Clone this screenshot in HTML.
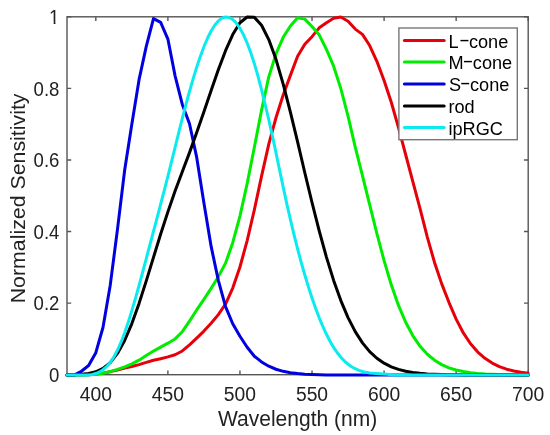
<!DOCTYPE html>
<html><head><meta charset="utf-8"><style>
html,body{margin:0;padding:0;background:#fff;}
body{width:550px;height:435px;overflow:hidden;}
svg{display:block;}
text{font-family:"Liberation Sans",Arial,sans-serif;fill:#222;}
.tl{font-size:20px;}
.lg{font-size:18.5px;fill:#000;}
.xl{font-size:21.4px;}
.yl{font-size:20.6px;}
</style></head><body>
<svg width="550" height="435" viewBox="0 0 550 435">
<defs><clipPath id="c1"><rect x="40" y="0" width="30" height="22.10"/><rect x="53.64" y="0" width="1.83" height="26.10"/></clipPath></defs>
<rect width="550" height="435" fill="#fff"/>
<g fill="none" stroke="#555" stroke-width="1.4">
<rect x="67.0" y="16.8" width="461.2" height="357.9"/>
<path d="M95.83,374.7v-4.2M95.83,16.8v4.2M167.89,374.7v-4.2M167.89,16.8v4.2M239.95,374.7v-4.2M239.95,16.8v4.2M312.01,374.7v-4.2M312.01,16.8v4.2M384.08,374.7v-4.2M384.08,16.8v4.2M456.14,374.7v-4.2M456.14,16.8v4.2M528.20,374.7v-4.2M528.20,16.8v4.2M67.0,374.70h4.2M528.2,374.70h-4.2M67.0,303.12h4.2M528.2,303.12h-4.2M67.0,231.54h4.2M528.2,231.54h-4.2M67.0,159.96h4.2M528.2,159.96h-4.2M67.0,88.38h4.2M528.2,88.38h-4.2M67.0,16.80h4.2M528.2,16.80h-4.2"/>
</g>
<g fill="none" stroke-width="3" stroke-linejoin="round" stroke-linecap="round">
<polyline points="67.00,375.10 74.21,375.10 81.41,374.92 88.62,374.65 95.83,374.10 103.03,373.13 110.24,371.66 117.44,369.95 124.65,368.16 131.86,366.55 139.06,364.60 146.27,362.43 153.48,360.31 160.68,358.67 167.89,356.89 175.09,354.77 182.30,350.96 189.51,344.89 196.71,338.11 203.92,331.10 211.13,323.27 218.33,314.61 225.54,304.01 232.74,288.08 239.95,266.98 247.16,240.61 254.36,209.75 261.57,176.18 268.78,144.07 275.98,117.75 283.19,94.99 290.39,75.39 297.60,56.21 304.81,44.25 312.01,36.67 319.22,27.83 326.43,22.66 333.63,18.29 340.84,17.06 348.04,21.24 355.25,29.10 362.46,34.34 369.66,45.55 376.87,61.32 384.08,80.43 391.28,102.23 398.49,127.64 405.69,154.74 412.90,181.91 420.11,208.84 427.31,237.10 434.52,262.46 441.73,283.88 448.93,302.31 456.14,319.11 463.34,332.94 470.55,343.74 477.76,352.05 484.96,358.37 492.17,363.11 499.38,366.63 506.58,369.21 513.79,371.05 520.99,372.28 528.20,373.14" stroke="#e6000a"/>
<polyline points="67.00,375.10 74.21,375.10 81.41,374.94 88.62,374.69 95.83,374.15 103.03,373.18 110.24,371.58 117.44,369.42 124.65,366.80 131.86,363.88 139.06,360.15 146.27,355.60 153.48,351.06 160.68,347.13 167.89,343.17 175.09,338.92 182.30,331.70 189.51,321.09 196.71,309.95 203.92,299.43 211.13,288.40 218.33,276.78 225.54,263.14 232.74,242.64 239.95,216.10 247.16,183.56 254.36,147.29 261.57,110.16 268.78,76.88 275.98,53.92 283.19,37.28 290.39,25.98 297.60,17.71 304.81,19.11 312.01,26.50 319.22,34.84 326.43,49.46 333.63,66.21 340.84,88.59 348.04,116.06 355.25,147.16 362.46,175.71 369.66,204.55 376.87,233.51 384.08,260.56 391.28,284.82 398.49,305.39 405.69,322.24 412.90,335.79 420.11,346.33 427.31,354.27 434.52,360.21 441.73,364.64 448.93,367.82 456.14,369.95 463.34,371.54 470.55,372.68 477.76,373.45 484.96,373.96 492.17,374.31 499.38,374.56 506.58,374.73 513.79,374.85 520.99,374.93 528.20,374.98" stroke="#00ec00"/>
<polyline points="67.00,375.10 74.21,375.10 81.41,371.23 88.62,365.55 95.83,352.68 103.03,327.25 110.24,285.15 117.44,229.65 124.65,170.24 131.86,123.92 139.06,79.69 146.27,46.33 153.48,18.61 160.68,22.44 167.89,39.07 175.09,75.86 182.30,104.41 189.51,123.81 196.71,157.43 203.92,203.03 211.13,246.39 218.33,280.36 225.54,306.66 232.74,323.77 239.95,336.22 247.16,347.24 254.36,356.22 261.57,361.94 268.78,366.21 275.98,369.25 283.19,371.34 290.39,372.71 297.60,373.61 304.81,374.18 312.01,374.54 319.22,374.76 326.43,374.89 333.63,374.97 340.84,375.02 348.04,375.05 355.25,375.07 362.46,375.08 369.66,375.09 376.87,375.09 384.08,375.10 391.28,375.10 398.49,375.10 405.69,375.10 412.90,375.10 420.11,375.10 427.31,375.10 434.52,375.10 441.73,375.10 448.93,375.10 456.14,375.10 463.34,375.10 470.55,375.10 477.76,375.10 484.96,375.10 492.17,375.10 499.38,375.10 506.58,375.10 513.79,375.10 520.99,375.10 528.20,375.10" stroke="#0000e0"/>
<polyline points="67.00,374.89 74.21,374.70 81.41,374.31 88.62,373.47 95.83,371.77 103.03,368.45 110.24,362.60 117.44,353.43 124.65,340.44 131.86,323.57 139.06,303.41 146.27,280.91 153.48,257.37 160.68,234.05 167.89,211.84 175.09,191.03 182.30,171.65 189.51,152.63 196.71,132.54 203.92,111.73 211.13,90.56 218.33,69.75 225.54,50.73 232.74,34.58 239.95,22.74 247.16,17.00 254.36,17.36 261.57,25.25 268.78,39.61 275.98,59.34 283.19,84.10 290.39,112.09 297.60,141.87 304.81,172.73 312.01,202.51 319.22,230.86 326.43,257.12 333.63,280.41 340.84,300.61 348.04,317.62 355.25,331.61 362.46,342.84 369.66,351.60 376.87,358.27 384.08,363.21 391.28,366.80 398.49,369.38 405.69,371.20 412.90,372.46 420.11,373.32 427.31,373.90 434.52,374.30 441.73,374.56 448.93,374.74 456.14,374.86 463.34,374.94 470.55,374.99 477.76,375.02 484.96,375.05 492.17,375.06 499.38,375.07 506.58,375.08 513.79,375.09 520.99,375.09 528.20,375.09" stroke="#000000"/>
<polyline points="67.00,375.10 70.60,375.10 74.21,375.00 77.81,374.94 81.41,375.00 85.02,375.03 88.62,374.89 92.22,374.43 95.83,373.51 99.43,371.99 103.03,369.72 106.63,366.57 110.24,362.38 113.84,357.01 117.44,350.32 121.05,342.21 124.65,332.76 128.25,322.18 131.86,310.63 135.46,298.31 139.06,285.41 142.67,272.09 146.27,258.57 149.87,245.00 153.48,231.46 157.08,217.89 160.68,204.21 164.28,190.36 167.89,176.26 171.49,161.87 175.09,147.30 178.70,132.76 182.30,118.45 185.90,104.59 189.51,91.34 193.11,78.82 196.71,67.14 200.32,56.41 203.92,46.74 207.52,38.24 211.13,31.01 214.73,25.18 218.33,20.85 221.93,18.12 225.54,17.00 229.14,17.48 232.74,19.52 236.35,23.12 239.95,28.25 243.55,34.89 247.16,43.02 250.76,52.62 254.36,63.66 257.97,76.13 261.57,89.90 265.17,104.56 268.78,119.77 272.38,135.81 275.98,152.71 279.58,170.00 283.19,187.16 286.79,203.70 290.39,219.50 294.00,234.54 297.60,248.81 301.20,262.30 304.81,275.01 308.41,286.92 312.01,298.03 315.62,308.34 319.22,317.83 322.82,326.49 326.43,334.31 330.03,341.30 333.63,347.43 337.23,352.72 340.84,357.23 344.44,361.02 348.04,364.16 351.65,366.71 355.25,368.74 358.85,370.31 362.46,371.49 366.06,372.34 369.66,372.94 373.27,373.33 376.87,373.60 380.47,373.80 384.08,374.01 387.68,374.27 391.28,374.67 394.88,375.10 398.49,375.10 402.09,375.10 405.69,375.10 409.30,375.10 412.90,375.10 416.50,375.10 420.11,375.10 423.71,375.10 427.31,375.10 430.92,375.10 434.52,375.10 438.12,375.10 441.73,375.10 445.33,375.10 448.93,375.10 452.53,375.10 456.14,375.10 459.74,375.10 463.34,375.10 466.95,375.10 470.55,375.10 474.15,375.10 477.76,375.10 481.36,375.10 484.96,375.10 488.57,375.10 492.17,375.10 495.77,375.10 499.38,375.10 502.98,375.10 506.58,375.10 510.18,375.10 513.79,375.10 517.39,375.10 520.99,375.10 524.60,375.10 528.20,375.10" stroke="#0aebf0"/>
</g>
<g class="tl">
<text transform="translate(95.83,400.50) scale(0.965,1.036)" text-anchor="middle" class="tl">400</text>
<text transform="translate(167.89,400.50) scale(0.965,1.036)" text-anchor="middle" class="tl">450</text>
<text transform="translate(239.95,400.50) scale(0.965,1.036)" text-anchor="middle" class="tl">500</text>
<text transform="translate(312.01,400.50) scale(0.965,1.036)" text-anchor="middle" class="tl">550</text>
<text transform="translate(384.08,400.50) scale(0.965,1.036)" text-anchor="middle" class="tl">600</text>
<text transform="translate(456.14,400.50) scale(0.965,1.036)" text-anchor="middle" class="tl">650</text>
<text transform="translate(528.20,400.50) scale(0.965,1.036)" text-anchor="middle" class="tl">700</text>
<text transform="translate(59.40,382.00) scale(0.93,1.036)" text-anchor="end" class="tl">0</text>
<text transform="translate(59.40,310.42) scale(0.93,1.036)" text-anchor="end" class="tl">0.2</text>
<text transform="translate(59.40,238.84) scale(0.93,1.036)" text-anchor="end" class="tl">0.4</text>
<text transform="translate(59.40,167.26) scale(0.93,1.036)" text-anchor="end" class="tl">0.6</text>
<text transform="translate(59.40,95.68) scale(0.93,1.036)" text-anchor="end" class="tl">0.8</text>
<g clip-path="url(#c1)"><text transform="translate(59.40,24.10) scale(0.93,1.036)" text-anchor="end" class="tl">1</text></g>
</g>
<text transform="translate(297.60,426.30) scale(0.982,1.036)" text-anchor="middle" class="xl">Wavelength (nm)</text>
<text class="yl" transform="translate(25.2,198.4) rotate(-90) scale(1.036,0.982)" text-anchor="middle">Normalized Sensitivity</text>
<rect x="398.9" y="28" width="118.4" height="111.7" fill="#fff" stroke="#777" stroke-width="1.4"/>
<g stroke-width="3" stroke-linecap="round">
<line x1="404.4" y1="40.6" x2="444.2" y2="40.6" stroke="#e6000a"/>
<text transform="translate(448.40,47.60) scale(0.982,1.036)" text-anchor="start" class="lg">L</text>
<text transform="translate(459.05,46.00) scale(1.768,1.036)" class="lg">-</text>
<text transform="translate(468.90,47.60) scale(0.982,1.036)" text-anchor="start" class="lg">cone</text>
<line x1="404.4" y1="61.9" x2="444.2" y2="61.9" stroke="#00ec00"/>
<text transform="translate(448.40,68.90) scale(0.982,1.036)" text-anchor="start" class="lg">M</text>
<text transform="translate(462.55,67.30) scale(1.768,1.036)" class="lg">-</text>
<text transform="translate(472.80,68.90) scale(0.982,1.036)" text-anchor="start" class="lg">cone</text>
<line x1="404.4" y1="84.0" x2="444.2" y2="84.0" stroke="#0000e0"/>
<text transform="translate(448.90,91.00) scale(0.982,1.036)" text-anchor="start" class="lg">S</text>
<text transform="translate(459.75,89.40) scale(1.768,1.036)" class="lg">-</text>
<text transform="translate(470.00,91.00) scale(0.982,1.036)" text-anchor="start" class="lg">cone</text>
<line x1="404.4" y1="105.9" x2="444.2" y2="105.9" stroke="#000000"/>
<text transform="translate(448.40,112.90) scale(0.982,1.036)" text-anchor="start" class="lg">rod</text>
<line x1="404.4" y1="127.6" x2="444.2" y2="127.6" stroke="#0aebf0"/>
<text transform="translate(448.40,134.60) scale(0.982,1.036)" text-anchor="start" class="lg">ipRGC</text>
</g>
</svg>
</body></html>
